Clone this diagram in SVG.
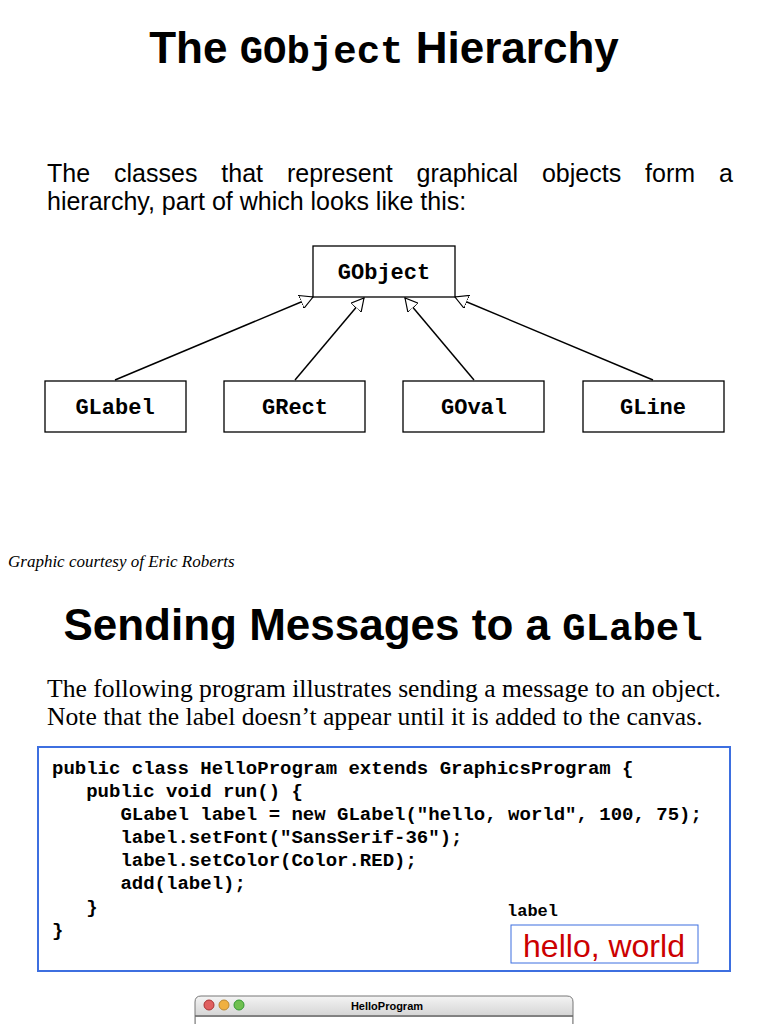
<svg xmlns="http://www.w3.org/2000/svg" width="768" height="1024" viewBox="0 0 768 1024">
<style>
.h{font-family:"Liberation Sans",Arial,sans-serif;font-weight:bold;font-size:44px}
.hm{font-family:"Liberation Mono","Courier New",monospace;font-weight:bold;font-size:39px}
.b{font-family:"Liberation Sans",Arial,sans-serif;font-size:25px}
.nb{fill:#fff;stroke:#000;stroke-width:1.3}
.nt{font-family:"Liberation Mono","Courier New",monospace;font-weight:bold;font-size:22px;text-anchor:middle}
.c{stroke:#000;stroke-width:1.5;fill:none;marker-end:url(#tri)}
.s{font-family:"Liberation Serif","Times New Roman",serif;font-size:25.6px}
.code{font-family:"Liberation Mono","Courier New",monospace;font-weight:bold;font-size:19px}
</style>
<defs>
<marker id="tri" viewBox="0 0 12 12" refX="11" refY="6" markerWidth="14" markerHeight="14" markerUnits="userSpaceOnUse" orient="auto">
<path d="M0,0 L11,6 L0,12 Z" fill="#fff" stroke="#000" stroke-width="1"/>
</marker>
<linearGradient id="tb" x1="0" y1="0" x2="0" y2="1"><stop offset="0" stop-color="#f4f4f4"/><stop offset="1" stop-color="#c8c8c8"/></linearGradient>
</defs>
<rect width="768" height="1024" fill="#fff"/>
<text x="384" y="63" text-anchor="middle"><tspan class="h">The </tspan><tspan class="hm">GObject</tspan><tspan class="h"> Hierarchy</tspan></text>
<text class="b" x="47" y="182" word-spacing="17">The classes that represent graphical objects form a</text>
<text class="b" x="47" y="210">hierarchy, part of which looks like this:</text>
<g id="connectors">
<line class="c" x1="115" y1="380" x2="313" y2="297"/>
<line class="c" x1="295" y1="380" x2="364" y2="298"/>
<line class="c" x1="474" y1="380" x2="405" y2="298"/>
<line class="c" x1="653" y1="380" x2="455" y2="297"/>
</g>
<g id="GObject"><rect class="nb" x="313" y="246" width="142" height="51"/><text class="nt" x="384" y="279">GObject</text></g>
<g id="GLabel"><rect class="nb" x="45" y="381" width="141" height="51"/><text class="nt" x="115" y="414">GLabel</text></g>
<g id="GRect"><rect class="nb" x="224" y="381" width="141" height="51"/><text class="nt" x="295" y="414">GRect</text></g>
<g id="GOval"><rect class="nb" x="403" y="381" width="141" height="51"/><text class="nt" x="474" y="414">GOval</text></g>
<g id="GLine"><rect class="nb" x="583" y="381" width="141" height="51"/><text class="nt" x="653" y="414">GLine</text></g>
<text x="8" y="567" font-family="Liberation Serif,serif" font-style="italic" font-size="17">Graphic courtesy of Eric Roberts</text>
<text x="383" y="640" text-anchor="middle"><tspan class="h">Sending Messages to a </tspan><tspan class="hm">GLabel</tspan></text>
<text class="s" x="47" y="697">The following program illustrates sending a message to an object.</text>
<text class="s" x="47" y="725">Note that the label doesn’t appear until it is added to the canvas.</text>
<rect x="38" y="747" width="692" height="224" fill="#fff" stroke="#3d6fe0" stroke-width="2"/>
<g class="code">
<text x="52" y="774" xml:space="preserve">public class HelloProgram extends GraphicsProgram {</text>
<text x="52" y="797" xml:space="preserve">   public void run() {</text>
<text x="52" y="820" xml:space="preserve">      GLabel label = new GLabel("hello, world", 100, 75);</text>
<text x="52" y="843" xml:space="preserve">      label.setFont("SansSerif-36");</text>
<text x="52" y="866" xml:space="preserve">      label.setColor(Color.RED);</text>
<text x="52" y="889" xml:space="preserve">      add(label);</text>
<text x="52" y="913" xml:space="preserve">   }</text>
<text x="52" y="936" xml:space="preserve">}</text>
<text x="507" y="916" font-size="17">label</text>
</g>
<rect x="511" y="925" width="187" height="38" fill="#fff" stroke="#3d6fe0" stroke-width="1"/>
<text x="604" y="957" text-anchor="middle" font-family="Liberation Sans,Arial,sans-serif" font-size="32" fill="#cc0000">hello, world</text>
<path d="M195,1024 V1002 Q195,996 201,996 H567 Q573,996 573,1002 V1024" fill="url(#tb)" stroke="#777"/>
<line x1="195" y1="1016" x2="573" y2="1016" stroke="#666" stroke-width="1.5"/>
<rect x="196" y="1017" width="376" height="7" fill="#fff"/>
<circle cx="209" cy="1005" r="5" fill="#e06060" stroke="#a33"/>
<circle cx="224" cy="1005" r="5" fill="#f0b040" stroke="#b83"/>
<circle cx="239" cy="1005" r="5" fill="#70c050" stroke="#393"/>
<text x="387" y="1010" text-anchor="middle" font-family="Liberation Sans,Arial,sans-serif" font-weight="bold" font-size="11">HelloProgram</text>
</svg>
